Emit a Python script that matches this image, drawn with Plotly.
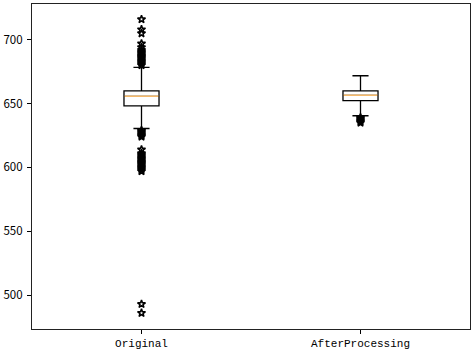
import plotly.graph_objects as go

categories = ["Original", "AfterProcessing"]
q1 = [648.3, 652.3]
median = [655.7, 656.5]
q3 = [660.0, 660.0]
lower_fence = [630.5, 640.5]
upper_fence = [678.3, 671.8]

orig_outliers = [716, 708, 705, 697, 694, 692, 691, 690, 689, 688, 687, 686, 685, 684, 683, 682, 681, 680,
                 629, 628, 627, 626, 625, 624, 614, 611, 610, 609, 608, 607, 606, 605, 604, 603, 602, 601,
                 600, 599, 598, 597, 493, 486]
after_outliers = [639, 638, 637, 636, 635]

fig = go.Figure()
fig.add_trace(go.Box(
    x=categories, q1=q1, median=median, q3=q3,
    lowerfence=lower_fence, upperfence=upper_fence,
    fillcolor="white", line=dict(color="black", width=1.3),
    width=0.16, whiskerwidth=0.46, boxpoints=False, showlegend=False,
))
# orange median lines drawn over the box
fig.add_trace(go.Box(
    x=categories, q1=median, median=median, q3=median,
    lowerfence=median, upperfence=median,
    fillcolor="rgba(0,0,0,0)", line=dict(color="#f5b96a", width=1.5),
    width=0.155, whiskerwidth=0, boxpoints=False, showlegend=False,
))
star = dict(symbol="star-open", size=6, color="black", line=dict(width=1.5, color="black"))
fig.add_trace(go.Scatter(
    x=[categories[0]] * len(orig_outliers), y=orig_outliers, mode="markers",
    marker=star, showlegend=False,
))
fig.add_trace(go.Scatter(
    x=[categories[1]] * len(after_outliers), y=after_outliers, mode="markers",
    marker=star, showlegend=False,
))

fig.update_layout(
    width=474, height=353,
    margin=dict(l=29, r=4, t=3, b=22),
    paper_bgcolor="white", plot_bgcolor="white",
    font=dict(family="Noto Sans CJK SC", size=11.5, color="black"),
    boxmode="overlay",
)
fig.update_xaxes(
    type="category", range=[-0.5, 1.5], showgrid=False, zeroline=False,
    showline=True, linecolor="#222", linewidth=1.2, mirror=True,
    ticks="outside", ticklen=4, tickcolor="black",
    tickfont=dict(family="Liberation Mono", size=11),
)
fig.update_yaxes(
    range=[473.5, 728], showgrid=False, zeroline=False,
    showline=True, linecolor="#222", linewidth=1.2, mirror=True,
    ticks="outside", ticklen=4, tickcolor="black",
    tickvals=[500, 550, 600, 650, 700], ticklabelstandoff=2,
)
fig.write_html("out.html")
